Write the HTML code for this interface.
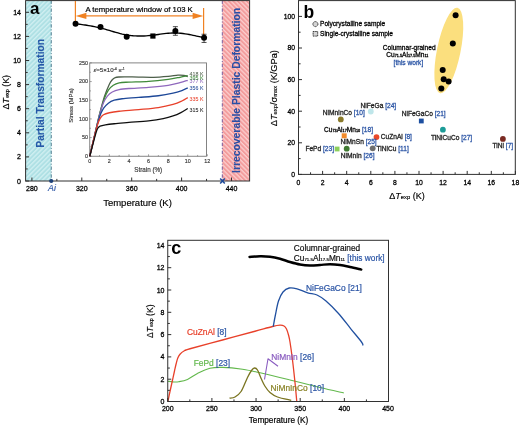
<!DOCTYPE html><html><head><meta charset="utf-8"><title>Figure</title>
<style>html,body{margin:0;padding:0;background:#fff}svg{display:block}text{font-family:"Liberation Sans", Arial, sans-serif;fill:currentColor;stroke:currentColor}</style></head><body>
<svg width="520" height="426" viewBox="0 0 520 426" color="#000">
<defs>
<pattern id="hc" width="3.2" height="3.2" patternUnits="userSpaceOnUse" patternTransform="rotate(-45)"><rect width="3.2" height="3.2" fill="#aee0e4"/><rect width="3.2" height="1.35" fill="#d0eff1"/></pattern>
<pattern id="hp" width="3.2" height="3.2" patternUnits="userSpaceOnUse" patternTransform="rotate(45)"><rect width="3.2" height="3.2" fill="#f39c9c"/><rect width="3.2" height="1.3" fill="#fbcdcd"/></pattern>
<filter id="soft" x="0" y="0" width="100%" height="100%" filterUnits="objectBoundingBox"><feGaussianBlur stdDeviation="0.4"/></filter>
</defs>
<g filter="url(#soft)">
<rect width="520" height="426" fill="#fff"/>
<g id="panel-a">
<rect x="25.60" y="0.60" width="25.65" height="180.40" fill="url(#hc)"/>
<rect x="222.30" y="0.60" width="27.30" height="180.40" fill="url(#hp)"/>
<line x1="51.25" y1="0.60" x2="51.25" y2="181.00" stroke="#3f7186" stroke-width="0.9" stroke-dasharray="3.3 1.8 1 1.8"/>
<line x1="222.3" y1="0.60" x2="222.3" y2="181.00" stroke="#6a4f98" stroke-width="0.9" stroke-dasharray="3.3 1.8 1 1.8"/>
<rect x="25.60" y="0.60" width="224.00" height="180.40" fill="none" stroke="#303030" stroke-width="1"/>
<line x1="31.90" y1="181.00" x2="31.90" y2="177.50" stroke="#303030" stroke-width="1"/>
<line x1="81.80" y1="181.00" x2="81.80" y2="177.50" stroke="#303030" stroke-width="1"/>
<line x1="131.70" y1="181.00" x2="131.70" y2="177.50" stroke="#303030" stroke-width="1"/>
<line x1="181.60" y1="181.00" x2="181.60" y2="177.50" stroke="#303030" stroke-width="1"/>
<line x1="231.50" y1="181.00" x2="231.50" y2="177.50" stroke="#303030" stroke-width="1"/>
<line x1="56.85" y1="181.00" x2="56.85" y2="178.90" stroke="#303030" stroke-width="1"/>
<line x1="106.75" y1="181.00" x2="106.75" y2="178.90" stroke="#303030" stroke-width="1"/>
<line x1="156.65" y1="181.00" x2="156.65" y2="178.90" stroke="#303030" stroke-width="1"/>
<line x1="206.55" y1="181.00" x2="206.55" y2="178.90" stroke="#303030" stroke-width="1"/>
<line x1="25.60" y1="181.00" x2="29.10" y2="181.00" stroke="#303030" stroke-width="1"/>
<line x1="25.60" y1="156.90" x2="29.10" y2="156.90" stroke="#303030" stroke-width="1"/>
<line x1="25.60" y1="132.80" x2="29.10" y2="132.80" stroke="#303030" stroke-width="1"/>
<line x1="25.60" y1="108.70" x2="29.10" y2="108.70" stroke="#303030" stroke-width="1"/>
<line x1="25.60" y1="84.60" x2="29.10" y2="84.60" stroke="#303030" stroke-width="1"/>
<line x1="25.60" y1="60.50" x2="29.10" y2="60.50" stroke="#303030" stroke-width="1"/>
<line x1="25.60" y1="36.40" x2="29.10" y2="36.40" stroke="#303030" stroke-width="1"/>
<line x1="25.60" y1="12.30" x2="29.10" y2="12.30" stroke="#303030" stroke-width="1"/>
<line x1="25.60" y1="168.95" x2="27.70" y2="168.95" stroke="#303030" stroke-width="1"/>
<line x1="25.60" y1="144.85" x2="27.70" y2="144.85" stroke="#303030" stroke-width="1"/>
<line x1="25.60" y1="120.75" x2="27.70" y2="120.75" stroke="#303030" stroke-width="1"/>
<line x1="25.60" y1="96.65" x2="27.70" y2="96.65" stroke="#303030" stroke-width="1"/>
<line x1="25.60" y1="72.55" x2="27.70" y2="72.55" stroke="#303030" stroke-width="1"/>
<line x1="25.60" y1="48.45" x2="27.70" y2="48.45" stroke="#303030" stroke-width="1"/>
<line x1="25.60" y1="24.35" x2="27.70" y2="24.35" stroke="#303030" stroke-width="1"/>
<text x="21" y="183.50" font-size="7" text-anchor="end" stroke-width="0.27">0</text>
<text x="21" y="159.40" font-size="7" text-anchor="end" stroke-width="0.27">2</text>
<text x="21" y="135.30" font-size="7" text-anchor="end" stroke-width="0.27">4</text>
<text x="21" y="111.20" font-size="7" text-anchor="end" stroke-width="0.27">6</text>
<text x="21" y="87.10" font-size="7" text-anchor="end" stroke-width="0.27">8</text>
<text x="21" y="63.00" font-size="7" text-anchor="end" stroke-width="0.27">10</text>
<text x="21" y="38.90" font-size="7" text-anchor="end" stroke-width="0.27">12</text>
<text x="21" y="14.80" font-size="7" text-anchor="end" stroke-width="0.27">14</text>
<text x="31.90" y="190.7" font-size="7" text-anchor="middle" stroke-width="0.27">280</text>
<text x="81.80" y="190.7" font-size="7" text-anchor="middle" stroke-width="0.27">320</text>
<text x="131.70" y="190.7" font-size="7" text-anchor="middle" stroke-width="0.27">360</text>
<text x="181.60" y="190.7" font-size="7" text-anchor="middle" stroke-width="0.27">400</text>
<text x="231.50" y="190.7" font-size="7" text-anchor="middle" stroke-width="0.27">440</text>
<text x="52" y="191" font-size="8.8" text-anchor="middle" font-style="italic" color="#2b55a5" stroke-width="0.15">Ai</text>
<circle cx="51.25" cy="181" r="2.1" fill="#1c3f78"/>
<path d="M220.2 178.4 L224.8 183.6 M224.8 178.4 L220.2 183.6" stroke="#1f4a9a" stroke-width="1.5" fill="none"/>
<text x="30" y="14" font-size="17" font-weight="bold" color="#000" stroke-width="0">a</text>
<text transform="translate(43.5 93.3) rotate(-90)" font-size="10.25" font-weight="bold" text-anchor="middle" color="#2558a8" stroke-width="0.12">Partial Transformation</text>
<text transform="translate(240.2 90.4) rotate(-90)" font-size="10.35" font-weight="bold" text-anchor="middle" color="#2a4fa5" stroke-width="0.12">Irrecoverable Plastic Deformation</text>
<text transform="translate(8.9 92.2) rotate(-90)" font-size="8.9" text-anchor="middle" stroke-width="0.15">Δ<tspan font-style="italic">T</tspan><tspan font-size="5.5">exp</tspan> (K)</text>
<text x="137.5" y="205.8" font-size="9.5" text-anchor="middle" stroke-width="0.15">Temperature (K)</text>
<line x1="75.40" y1="1" x2="75.40" y2="22" stroke="#f08224" stroke-width="1.2"/>
<line x1="203.60" y1="8" x2="203.60" y2="36" stroke="#f08224" stroke-width="1.2"/>
<line x1="81.40" y1="15.9" x2="197.60" y2="15.9" stroke="#f08224" stroke-width="1.3"/>
<path d="M75.70 15.9 L86.40 12.7 L86.40 19.1 Z" fill="#f08224"/>
<path d="M203.30 15.9 L192.60 12.7 L192.60 19.1 Z" fill="#f08224"/>
<text x="139.15" y="11.9" font-size="7.72" text-anchor="middle" stroke-width="0.2">A temperature window of 103 K</text>
<path d="M75.6 23.75 L75.6 23.75 L75.6 23.75 L75.6 23.76 L75.7 23.77 L75.9 23.79 L76.1 23.82 L76.4 23.86 L76.8 23.91 L77.3 23.98 L78.0 24.06 L78.8 24.17 L79.7 24.29 L80.8 24.44 L82.1 24.61 L83.6 24.81 L85.1 25.03 L86.8 25.29 L88.6 25.58 L90.5 25.90 L92.4 26.25 L94.4 26.65 L96.5 27.08 L98.6 27.55 L100.7 28.07 L102.9 28.62 L105.0 29.22 L107.1 29.83 L109.3 30.47 L111.5 31.11 L113.6 31.74 L115.8 32.36 L118.0 32.96 L120.2 33.53 L122.3 34.05 L124.5 34.52 L126.7 34.93 L128.9 35.28 L131.1 35.55 L133.2 35.76 L135.4 35.91 L137.6 36.00 L139.7 36.03 L141.9 36.02 L144.0 35.96 L146.1 35.85 L148.2 35.70 L150.2 35.52 L152.3 35.30 L154.3 35.05 L156.3 34.77 L158.3 34.49 L160.2 34.20 L162.2 33.93 L164.2 33.66 L166.2 33.43 L168.2 33.23 L170.2 33.07 L172.2 32.97 L174.3 32.93 L176.4 32.97 L178.6 33.08 L180.7 33.27 L182.9 33.52 L185.1 33.81 L187.2 34.15 L189.2 34.52 L191.2 34.90 L193.1 35.29 L194.9 35.68 L196.5 36.05 L198.0 36.39 L199.3 36.70 L200.4 36.96 L201.3 37.18 L202.0 37.36 L202.6 37.51 L203.1 37.62 L203.5 37.70 L203.7 37.76 L203.9 37.80 L204.0 37.83 L204.0 37.84 L204.1 37.85 L204.1 37.85" fill="none" stroke="#000" stroke-width="1.35" stroke-linejoin="round"/>
<circle cx="75.56" cy="23.75" r="3" fill="#000"/>
<circle cx="100.51" cy="27.00" r="3" fill="#000"/>
<circle cx="126.71" cy="36.64" r="3" fill="#000"/>
<rect x="150.31" y="33.44" width="5.2" height="5.2" fill="#000"/>
<path d="M175.36 26.68 V35.28 M172.86 26.68 H177.86 M172.86 35.28 H177.86" stroke="#000" stroke-width="0.7" fill="none"/>
<circle cx="175.36" cy="30.98" r="3" fill="#000"/>
<path d="M204.06 34.25 V42.45 M201.56 34.25 H206.56 M201.56 42.45 H206.56" stroke="#000" stroke-width="0.7" fill="none"/>
<circle cx="204.06" cy="37.85" r="3" fill="#000"/>
<rect x="89.75" y="62.90" width="116.75" height="93.35" fill="#fff" stroke="#777" stroke-width="0.9"/>
<line x1="89.75" y1="156.25" x2="89.75" y2="154.25" stroke="#666" stroke-width="0.6"/>
<text x="89.75" y="163.3" font-size="5.4" text-anchor="middle" color="#333" stroke-width="0.14">0</text>
<line x1="109.35" y1="156.25" x2="109.35" y2="154.25" stroke="#666" stroke-width="0.6"/>
<text x="109.35" y="163.3" font-size="5.4" text-anchor="middle" color="#333" stroke-width="0.14">2</text>
<line x1="128.95" y1="156.25" x2="128.95" y2="154.25" stroke="#666" stroke-width="0.6"/>
<text x="128.95" y="163.3" font-size="5.4" text-anchor="middle" color="#333" stroke-width="0.14">4</text>
<line x1="148.55" y1="156.25" x2="148.55" y2="154.25" stroke="#666" stroke-width="0.6"/>
<text x="148.55" y="163.3" font-size="5.4" text-anchor="middle" color="#333" stroke-width="0.14">6</text>
<line x1="168.15" y1="156.25" x2="168.15" y2="154.25" stroke="#666" stroke-width="0.6"/>
<text x="168.15" y="163.3" font-size="5.4" text-anchor="middle" color="#333" stroke-width="0.14">8</text>
<line x1="187.75" y1="156.25" x2="187.75" y2="154.25" stroke="#666" stroke-width="0.6"/>
<text x="187.75" y="163.3" font-size="5.4" text-anchor="middle" color="#333" stroke-width="0.14">10</text>
<line x1="207.35" y1="156.25" x2="207.35" y2="154.25" stroke="#666" stroke-width="0.6"/>
<text x="207.35" y="163.3" font-size="5.4" text-anchor="middle" color="#333" stroke-width="0.14">12</text>
<line x1="99.55" y1="156.25" x2="99.55" y2="155.05" stroke="#666" stroke-width="0.6"/>
<line x1="119.15" y1="156.25" x2="119.15" y2="155.05" stroke="#666" stroke-width="0.6"/>
<line x1="138.75" y1="156.25" x2="138.75" y2="155.05" stroke="#666" stroke-width="0.6"/>
<line x1="158.35" y1="156.25" x2="158.35" y2="155.05" stroke="#666" stroke-width="0.6"/>
<line x1="177.95" y1="156.25" x2="177.95" y2="155.05" stroke="#666" stroke-width="0.6"/>
<line x1="197.55" y1="156.25" x2="197.55" y2="155.05" stroke="#666" stroke-width="0.6"/>
<line x1="89.75" y1="156.25" x2="91.75" y2="156.25" stroke="#666" stroke-width="0.6"/>
<text x="88" y="158.15" font-size="5.4" text-anchor="end" color="#333" stroke-width="0.14">0</text>
<line x1="89.75" y1="137.58" x2="91.75" y2="137.58" stroke="#666" stroke-width="0.6"/>
<text x="88" y="139.48" font-size="5.4" text-anchor="end" color="#333" stroke-width="0.14">50</text>
<line x1="89.75" y1="118.91" x2="91.75" y2="118.91" stroke="#666" stroke-width="0.6"/>
<text x="88" y="120.81" font-size="5.4" text-anchor="end" color="#333" stroke-width="0.14">100</text>
<line x1="89.75" y1="100.24" x2="91.75" y2="100.24" stroke="#666" stroke-width="0.6"/>
<text x="88" y="102.14" font-size="5.4" text-anchor="end" color="#333" stroke-width="0.14">150</text>
<line x1="89.75" y1="81.57" x2="91.75" y2="81.57" stroke="#666" stroke-width="0.6"/>
<text x="88" y="83.47" font-size="5.4" text-anchor="end" color="#333" stroke-width="0.14">200</text>
<line x1="89.75" y1="62.90" x2="91.75" y2="62.90" stroke="#666" stroke-width="0.6"/>
<text x="88" y="64.80" font-size="5.4" text-anchor="end" color="#333" stroke-width="0.14">250</text>
<line x1="89.75" y1="146.91" x2="90.95" y2="146.91" stroke="#666" stroke-width="0.6"/>
<line x1="89.75" y1="128.25" x2="90.95" y2="128.25" stroke="#666" stroke-width="0.6"/>
<line x1="89.75" y1="109.58" x2="90.95" y2="109.58" stroke="#666" stroke-width="0.6"/>
<line x1="89.75" y1="90.91" x2="90.95" y2="90.91" stroke="#666" stroke-width="0.6"/>
<line x1="89.75" y1="72.24" x2="90.95" y2="72.24" stroke="#666" stroke-width="0.6"/>
<text transform="translate(72.6 105.5) rotate(-90)" font-size="5.9" text-anchor="middle" color="#333" stroke-width="0.14">Stress (MPa)</text>
<text x="148.2" y="172.4" font-size="6.3" text-anchor="middle" color="#333" stroke-width="0.14">Strain (%)</text>
<text x="93.6" y="71.8" font-size="6.1" color="#333" stroke-width="0.14"><tspan font-style="italic">ε̇</tspan>=5×10<tspan font-size="3.6" dy="-2">-4</tspan><tspan dy="2"> s</tspan><tspan font-size="3.6" dy="-2">-1</tspan></text>
<path d="M89.75 156.25 C90.57 152.76 93.02 142.31 94.65 135.34 C96.28 128.37 97.92 120.90 99.55 114.43 C101.18 107.96 102.82 101.55 104.45 96.51 C106.08 91.47 108.04 86.98 109.35 84.18 C110.66 81.38 111.31 80.79 112.29 79.70 C113.27 78.61 114.09 78.10 115.23 77.65 C116.37 77.19 117.52 77.12 119.15 76.98 C120.78 76.83 121.76 76.77 125.03 76.79 C128.30 76.81 134.01 77.01 138.75 77.09 C143.49 77.17 148.55 77.40 153.45 77.28 C158.35 77.15 164.07 76.68 168.15 76.34 C172.23 76.00 175.34 75.38 177.95 75.22 C180.56 75.07 182.20 75.16 183.83 75.41 C185.46 75.66 187.10 76.50 187.75 76.72" fill="none" stroke="#4d5f4a" stroke-width="1.3" stroke-linejoin="round"/>
<path d="M89.75 156.25 C90.57 152.76 93.02 142.31 94.65 135.34 C96.28 128.37 97.92 120.59 99.55 114.43 C101.18 108.27 102.98 102.42 104.45 98.37 C105.92 94.33 106.90 92.34 108.37 90.16 C109.84 87.98 111.47 86.52 113.27 85.30 C115.07 84.09 116.54 83.41 119.15 82.88 C121.76 82.35 124.05 82.38 128.95 82.13 C133.85 81.88 142.02 81.85 148.55 81.38 C155.08 80.92 162.92 80.01 168.15 79.33 C173.38 78.65 176.64 77.90 179.91 77.28 C183.18 76.65 186.44 75.88 187.75 75.60" fill="none" stroke="#3f8a3a" stroke-width="1.3" stroke-linejoin="round"/>
<path d="M89.75 156.25 C90.57 152.76 93.02 142.19 94.65 135.34 C96.28 128.49 98.08 120.59 99.55 115.18 C101.02 109.76 102.16 106.03 103.47 102.85 C104.78 99.68 105.92 97.94 107.39 96.13 C108.86 94.33 110.33 93.11 112.29 92.03 C114.25 90.94 116.37 90.19 119.15 89.60 C121.93 89.01 124.05 88.85 128.95 88.48 C133.85 88.10 142.02 87.89 148.55 87.36 C155.08 86.83 162.92 86.08 168.15 85.30 C173.38 84.53 176.64 83.53 179.91 82.69 C183.18 81.85 186.44 80.67 187.75 80.26" fill="none" stroke="#8f68bd" stroke-width="1.3" stroke-linejoin="round"/>
<path d="M89.75 156.25 C90.57 152.76 93.02 141.87 94.65 135.34 C96.28 128.81 98.08 121.52 99.55 117.04 C101.02 112.56 102.00 110.76 103.47 108.45 C104.94 106.15 106.57 104.60 108.37 103.23 C110.17 101.86 111.96 100.99 114.25 100.24 C116.54 99.49 118.01 99.21 122.09 98.75 C126.17 98.28 132.71 97.94 138.75 97.44 C144.79 96.94 152.63 96.47 158.35 95.76 C164.07 95.04 169.13 94.02 173.05 93.15 C176.97 92.27 179.42 91.40 181.87 90.53 C184.32 89.66 186.77 88.35 187.75 87.92" fill="none" stroke="#1f4898" stroke-width="1.3" stroke-linejoin="round"/>
<path d="M89.75 156.25 C90.40 153.45 92.36 144.74 93.67 139.45 C94.98 134.16 96.53 128.00 97.59 124.51 C98.65 121.03 99.06 120.15 100.04 118.54 C101.02 116.92 101.92 115.77 103.47 114.80 C105.02 113.84 106.74 113.34 109.35 112.75 C111.96 112.16 114.25 111.78 119.15 111.26 C124.05 110.73 132.22 110.20 138.75 109.58 C145.28 108.95 152.63 108.39 158.35 107.52 C164.07 106.65 169.13 105.44 173.05 104.35 C176.97 103.26 179.42 102.11 181.87 100.99 C184.32 99.87 186.77 98.19 187.75 97.63" fill="none" stroke="#e8402a" stroke-width="1.3" stroke-linejoin="round"/>
<path d="M89.75 156.25 C90.40 153.76 92.59 145.36 93.67 141.31 C94.75 137.27 95.53 134.16 96.22 131.98 C96.90 129.80 97.15 129.21 97.79 128.25 C98.42 127.28 98.77 126.75 100.04 126.19 C101.31 125.63 103.06 125.29 105.43 124.88 C107.80 124.48 110.33 124.17 114.25 123.76 C118.17 123.36 123.23 122.96 128.95 122.46 C134.67 121.96 142.83 121.43 148.55 120.78 C154.27 120.12 159.17 119.35 163.25 118.54 C167.33 117.73 170.11 116.92 173.05 115.92 C175.99 114.93 178.44 113.81 180.89 112.56 C183.34 111.32 186.61 109.14 187.75 108.45" fill="none" stroke="#111111" stroke-width="1.3" stroke-linejoin="round"/>
<text x="189.6" y="111.90" font-size="5.3" color="#111111" stroke-width="0.04">315 K</text>
<text x="189.6" y="100.70" font-size="5.3" color="#e8402a" stroke-width="0.04">335 K</text>
<text x="189.6" y="90.10" font-size="5.3" color="#1f4898" stroke-width="0.04">356 K</text>
<text x="189.6" y="83.10" font-size="5.3" color="#8f68bd" stroke-width="0.04">377 K</text>
<text x="189.6" y="79.50" font-size="5.3" color="#3f8a3a" stroke-width="0.04">395 K</text>
<text x="189.6" y="75.70" font-size="5.3" color="#4d5f4a" stroke-width="0.04">418 K</text>
</g>
<g id="panel-b">
<rect x="298.50" y="0.60" width="216.80" height="173.80" fill="none" stroke="#303030" stroke-width="1"/>
<line x1="298.50" y1="174.40" x2="298.50" y2="170.90" stroke="#303030" stroke-width="1"/>
<text x="298.50" y="184.8" font-size="6.8" text-anchor="middle" stroke-width="0.27">0</text>
<line x1="322.60" y1="174.40" x2="322.60" y2="170.90" stroke="#303030" stroke-width="1"/>
<text x="322.60" y="184.8" font-size="6.8" text-anchor="middle" stroke-width="0.27">2</text>
<line x1="346.70" y1="174.40" x2="346.70" y2="170.90" stroke="#303030" stroke-width="1"/>
<text x="346.70" y="184.8" font-size="6.8" text-anchor="middle" stroke-width="0.27">4</text>
<line x1="370.80" y1="174.40" x2="370.80" y2="170.90" stroke="#303030" stroke-width="1"/>
<text x="370.80" y="184.8" font-size="6.8" text-anchor="middle" stroke-width="0.27">6</text>
<line x1="394.90" y1="174.40" x2="394.90" y2="170.90" stroke="#303030" stroke-width="1"/>
<text x="394.90" y="184.8" font-size="6.8" text-anchor="middle" stroke-width="0.27">8</text>
<line x1="419.00" y1="174.40" x2="419.00" y2="170.90" stroke="#303030" stroke-width="1"/>
<text x="419.00" y="184.8" font-size="6.8" text-anchor="middle" stroke-width="0.27">10</text>
<line x1="443.10" y1="174.40" x2="443.10" y2="170.90" stroke="#303030" stroke-width="1"/>
<text x="443.10" y="184.8" font-size="6.8" text-anchor="middle" stroke-width="0.27">12</text>
<line x1="467.20" y1="174.40" x2="467.20" y2="170.90" stroke="#303030" stroke-width="1"/>
<text x="467.20" y="184.8" font-size="6.8" text-anchor="middle" stroke-width="0.27">14</text>
<line x1="491.30" y1="174.40" x2="491.30" y2="170.90" stroke="#303030" stroke-width="1"/>
<text x="491.30" y="184.8" font-size="6.8" text-anchor="middle" stroke-width="0.27">16</text>
<line x1="515.40" y1="174.40" x2="515.40" y2="170.90" stroke="#303030" stroke-width="1"/>
<text x="515.40" y="184.8" font-size="6.8" text-anchor="middle" stroke-width="0.27">18</text>
<line x1="310.55" y1="174.40" x2="310.55" y2="172.30" stroke="#303030" stroke-width="1"/>
<line x1="334.65" y1="174.40" x2="334.65" y2="172.30" stroke="#303030" stroke-width="1"/>
<line x1="358.75" y1="174.40" x2="358.75" y2="172.30" stroke="#303030" stroke-width="1"/>
<line x1="382.85" y1="174.40" x2="382.85" y2="172.30" stroke="#303030" stroke-width="1"/>
<line x1="406.95" y1="174.40" x2="406.95" y2="172.30" stroke="#303030" stroke-width="1"/>
<line x1="431.05" y1="174.40" x2="431.05" y2="172.30" stroke="#303030" stroke-width="1"/>
<line x1="455.15" y1="174.40" x2="455.15" y2="172.30" stroke="#303030" stroke-width="1"/>
<line x1="479.25" y1="174.40" x2="479.25" y2="172.30" stroke="#303030" stroke-width="1"/>
<line x1="503.35" y1="174.40" x2="503.35" y2="172.30" stroke="#303030" stroke-width="1"/>
<line x1="298.50" y1="174.40" x2="302.00" y2="174.40" stroke="#303030" stroke-width="1"/>
<text x="295" y="176.80" font-size="6.8" text-anchor="end" stroke-width="0.27">0</text>
<line x1="298.50" y1="142.80" x2="302.00" y2="142.80" stroke="#303030" stroke-width="1"/>
<text x="295" y="145.20" font-size="6.8" text-anchor="end" stroke-width="0.27">20</text>
<line x1="298.50" y1="111.20" x2="302.00" y2="111.20" stroke="#303030" stroke-width="1"/>
<text x="295" y="113.60" font-size="6.8" text-anchor="end" stroke-width="0.27">40</text>
<line x1="298.50" y1="79.60" x2="302.00" y2="79.60" stroke="#303030" stroke-width="1"/>
<text x="295" y="82.00" font-size="6.8" text-anchor="end" stroke-width="0.27">60</text>
<line x1="298.50" y1="48.00" x2="302.00" y2="48.00" stroke="#303030" stroke-width="1"/>
<text x="295" y="50.40" font-size="6.8" text-anchor="end" stroke-width="0.27">80</text>
<line x1="298.50" y1="16.40" x2="302.00" y2="16.40" stroke="#303030" stroke-width="1"/>
<text x="295" y="18.80" font-size="6.8" text-anchor="end" stroke-width="0.27">100</text>
<line x1="298.50" y1="158.60" x2="300.60" y2="158.60" stroke="#303030" stroke-width="1"/>
<line x1="298.50" y1="127.00" x2="300.60" y2="127.00" stroke="#303030" stroke-width="1"/>
<line x1="298.50" y1="95.40" x2="300.60" y2="95.40" stroke="#303030" stroke-width="1"/>
<line x1="298.50" y1="63.80" x2="300.60" y2="63.80" stroke="#303030" stroke-width="1"/>
<line x1="298.50" y1="32.20" x2="300.60" y2="32.20" stroke="#303030" stroke-width="1"/>
<text x="303.5" y="17.5" font-size="17.5" font-weight="bold" color="#000" stroke-width="0">b</text>
<text transform="translate(277.3 88.2) rotate(-90)" font-size="9.2" text-anchor="middle" stroke-width="0.15">Δ<tspan font-style="italic">T</tspan><tspan font-size="5.8">exp</tspan>/σ<tspan font-size="5.8">max</tspan> (K/GPa)</text>
<text x="407" y="198.7" font-size="9" text-anchor="middle" stroke-width="0.15">Δ<tspan font-style="italic">T</tspan><tspan font-size="5.8">exp</tspan> (K)</text>
<circle cx="315.4" cy="24.1" r="2.5" fill="#d4d4d4" stroke="#222" stroke-width="0.9" stroke-dasharray="1.1 0.5"/>
<rect x="313.1" y="31.5" width="4.6" height="4.6" fill="#d4d4d4" stroke="#222" stroke-width="0.9" stroke-dasharray="1.1 0.5"/>
<text x="320" y="26.2" font-size="6.6" stroke-width="0.27">Polycrystalline sample</text>
<text x="320" y="36.2" font-size="6.6" stroke-width="0.27">Single-crystalline sample</text>
<ellipse cx="448.8" cy="50.5" rx="11.8" ry="43.5" transform="rotate(11.5 448.8 50.5)" fill="#fbdf7e"/>
<circle cx="455.60" cy="15.30" r="3" fill="#000"/>
<circle cx="452.80" cy="43.40" r="3" fill="#000"/>
<circle cx="442.70" cy="70.00" r="3" fill="#000"/>
<circle cx="443.70" cy="79.30" r="3" fill="#000"/>
<circle cx="448.60" cy="81.50" r="3" fill="#000"/>
<circle cx="441.30" cy="88.50" r="3" fill="#000"/>
<text x="409.2" y="49.7" font-size="6.6" text-anchor="middle" stroke-width="0.27">Columnar-grained</text>
<text x="407.3" y="57.2" font-size="6.6" text-anchor="middle" stroke-width="0.27">Cu<tspan font-size="3.8">71.5</tspan>Al<tspan font-size="3.8">17.5</tspan>Mn<tspan font-size="3.8">11</tspan></text>
<text x="408.4" y="64.7" font-size="6.6" text-anchor="middle" color="#2b55a5" stroke-width="0.27">[this work]</text>
<circle cx="370.8" cy="111.5" r="2.9" fill="#bfe6ea"/>
<text x="360.60" y="107.70" font-size="6.6" text-anchor="start" color="#1a1a1a" stroke-width="0.27">NiFeGa <tspan color="#2b55a5">[24]</tspan></text>
<circle cx="340.8" cy="119.4" r="2.9" fill="#8a7a2c"/>
<text x="322.70" y="115.00" font-size="6.6" text-anchor="start" color="#1a1a1a" stroke-width="0.27">NiMnInCo <tspan color="#2b55a5">[10]</tspan></text>
<rect x="341.7" y="133.3" width="5" height="5" fill="#f28a2a"/>
<text x="324" y="132.3" font-size="6.6" stroke-width="0.27">Cu<tspan font-size="3.8">73</tspan>Al<tspan font-size="3.8">17</tspan>Mn<tspan font-size="3.8">10</tspan> <tspan color="#2b55a5">[18]</tspan></text>
<circle cx="376.5" cy="137.1" r="2.9" fill="#ea4a2c"/>
<text x="380.80" y="139.20" font-size="6.6" text-anchor="start" color="#1a1a1a" stroke-width="0.27">CuZnAl <tspan color="#2b55a5">[8]</tspan></text>
<text x="340.40" y="143.80" font-size="6.6" text-anchor="start" color="#1a1a1a" stroke-width="0.27">NiMnSn <tspan color="#2b55a5">[25]</tspan></text>
<circle cx="346.7" cy="148.7" r="2.9" fill="#3f7a30"/>
<rect x="334.7" y="146.6" width="4.8" height="4.8" fill="#8ccf5c"/>
<text x="305.40" y="151.20" font-size="6.6" text-anchor="start" color="#1a1a1a" stroke-width="0.27">FePd <tspan color="#2b55a5">[23]</tspan></text>
<circle cx="372.7" cy="148.3" r="2.9" fill="#6e6e6e"/>
<text x="376.50" y="150.70" font-size="6.6" text-anchor="start" color="#1a1a1a" stroke-width="0.27">TiNiCu <tspan color="#2b55a5">[11]</tspan></text>
<text x="340.80" y="158.30" font-size="6.6" text-anchor="start" color="#1a1a1a" stroke-width="0.27">NiMnIn <tspan color="#2b55a5">[26]</tspan></text>
<rect x="418.9" y="118.6" width="4.8" height="4.8" fill="#1f4fa0"/>
<text x="401.70" y="115.90" font-size="6.6" text-anchor="start" color="#1a1a1a" stroke-width="0.27">NiFeGaCo <tspan color="#2b55a5">[21]</tspan></text>
<circle cx="442.9" cy="129.7" r="2.9" fill="#1e9c98"/>
<text x="431.00" y="139.50" font-size="6.6" text-anchor="start" color="#1a1a1a" stroke-width="0.27">TiNiCuCo <tspan color="#2b55a5">[27]</tspan></text>
<circle cx="502.9" cy="138.9" r="2.9" fill="#7a2c24"/>
<text x="492.50" y="147.50" font-size="6.6" text-anchor="start" color="#1a1a1a" stroke-width="0.27">TiNi <tspan color="#2b55a5">[7]</tspan></text>
</g>
<g id="panel-c">
<path d="M168.00 381.25 C168.83 381.36 171.21 381.82 173.00 381.90 C174.79 381.97 176.33 382.12 178.75 381.70 C181.17 381.28 184.38 380.78 187.50 379.40 C190.62 378.02 193.75 375.26 197.50 373.40 C201.25 371.54 205.83 369.25 210.00 368.25 C214.17 367.25 217.08 367.22 222.50 367.40 C227.92 367.57 236.25 368.40 242.50 369.30 C248.75 370.20 252.08 371.02 260.00 372.80 C267.92 374.58 280.00 377.55 290.00 380.00 C300.00 382.45 311.04 385.35 320.00 387.50 C328.96 389.65 339.79 392.00 343.75 392.90" fill="none" stroke="#62b84c" stroke-width="1.1"/>
<path d="M229.50 398.20 C230.42 398.00 233.04 398.16 235.00 397.00 C236.96 395.84 239.17 394.50 241.25 391.25 C243.33 388.00 245.79 380.96 247.50 377.50 C249.21 374.04 250.33 372.08 251.50 370.50 C252.67 368.92 253.50 368.08 254.50 368.00 C255.50 367.92 256.38 368.21 257.50 370.00 C258.62 371.79 260.00 376.04 261.25 378.75 C262.50 381.46 263.54 383.96 265.00 386.25 C266.46 388.54 267.92 390.71 270.00 392.50 C272.08 394.29 273.96 395.70 277.50 397.00 C281.04 398.30 288.96 399.75 291.25 400.30" fill="none" stroke="#7a7420" stroke-width="1.3"/>
<path d="M264.5 379.5 L268 358.75 L278 366.25" fill="none" stroke="#8a5cc0" stroke-width="1.1" stroke-linejoin="round"/>
<path d="M167.90 401.30 C168.27 399.58 169.37 394.38 170.10 391.00 C170.83 387.62 171.57 384.33 172.30 381.00 C173.03 377.67 173.85 373.92 174.50 371.00 C175.15 368.08 175.65 365.67 176.20 363.50 C176.75 361.33 177.17 359.55 177.80 358.00 C178.43 356.45 178.97 355.37 180.00 354.20 C181.03 353.03 182.33 351.91 184.00 351.00 C185.67 350.09 183.58 350.58 190.00 348.75 C196.42 346.92 211.67 342.92 222.50 340.00 C233.33 337.08 246.67 333.50 255.00 331.25 C263.33 329.00 268.33 327.51 272.50 326.50 C276.67 325.49 278.08 325.28 280.00 325.20 C281.92 325.12 282.92 325.37 284.00 326.00 C285.08 326.63 285.75 327.50 286.50 329.00 C287.25 330.50 287.92 332.83 288.50 335.00 C289.08 337.17 289.33 337.83 290.00 342.00 C290.67 346.17 291.67 353.25 292.50 360.00 C293.33 366.75 294.29 375.62 295.00 382.50 C295.71 389.38 296.46 398.12 296.75 401.25" fill="none" stroke="#e8402a" stroke-width="1.3"/>
<path d="M273.20 326.70 C273.57 324.75 274.52 319.28 275.40 315.00 C276.28 310.72 277.23 304.83 278.50 301.00 C279.77 297.17 281.22 294.17 283.00 292.00 C284.78 289.83 286.87 288.53 289.20 288.00 C291.53 287.47 293.92 288.00 297.00 288.80 C300.08 289.60 304.37 291.77 307.70 292.80 C311.03 293.83 313.95 293.63 317.00 295.00 C320.05 296.37 322.42 297.92 326.00 301.00 C329.58 304.08 334.37 308.87 338.50 313.50 C342.63 318.13 346.97 324.05 350.80 328.80 C354.63 333.55 359.47 339.22 361.50 342.00 C363.53 344.78 362.75 344.92 363.00 345.50" fill="none" stroke="#2050a0" stroke-width="1.3"/>
<path d="M249.50 257.00 C251.25 256.88 256.58 256.29 260.00 256.25 C263.42 256.21 266.67 256.33 270.00 256.75 C273.33 257.17 276.67 257.88 280.00 258.75 C283.33 259.62 286.67 261.04 290.00 262.00 C293.33 262.96 296.67 263.92 300.00 264.50 C303.33 265.08 306.67 265.42 310.00 265.50 C313.33 265.58 316.67 265.21 320.00 265.00 C323.33 264.79 326.67 264.25 330.00 264.25 C333.33 264.25 336.67 264.54 340.00 265.00 C343.33 265.46 346.46 266.23 350.00 267.00 C353.54 267.77 359.38 269.17 361.25 269.60" fill="none" stroke="#000" stroke-width="2.4" stroke-linecap="round"/>
<rect x="167.75" y="240.30" width="220.75" height="161.20" fill="none" stroke="#303030" stroke-width="1"/>
<line x1="167.75" y1="401.50" x2="167.75" y2="398.00" stroke="#303030" stroke-width="1"/>
<text x="167.75" y="411" font-size="7" text-anchor="middle" stroke-width="0.27">200</text>
<line x1="211.90" y1="401.50" x2="211.90" y2="398.00" stroke="#303030" stroke-width="1"/>
<text x="211.90" y="411" font-size="7" text-anchor="middle" stroke-width="0.27">250</text>
<line x1="256.05" y1="401.50" x2="256.05" y2="398.00" stroke="#303030" stroke-width="1"/>
<text x="256.05" y="411" font-size="7" text-anchor="middle" stroke-width="0.27">300</text>
<line x1="300.20" y1="401.50" x2="300.20" y2="398.00" stroke="#303030" stroke-width="1"/>
<text x="300.20" y="411" font-size="7" text-anchor="middle" stroke-width="0.27">350</text>
<line x1="344.35" y1="401.50" x2="344.35" y2="398.00" stroke="#303030" stroke-width="1"/>
<text x="344.35" y="411" font-size="7" text-anchor="middle" stroke-width="0.27">400</text>
<line x1="388.50" y1="401.50" x2="388.50" y2="398.00" stroke="#303030" stroke-width="1"/>
<text x="388.00" y="411" font-size="7" text-anchor="middle" stroke-width="0.27">450</text>
<line x1="189.82" y1="401.50" x2="189.82" y2="399.40" stroke="#303030" stroke-width="1"/>
<line x1="233.97" y1="401.50" x2="233.97" y2="399.40" stroke="#303030" stroke-width="1"/>
<line x1="278.12" y1="401.50" x2="278.12" y2="399.40" stroke="#303030" stroke-width="1"/>
<line x1="322.27" y1="401.50" x2="322.27" y2="399.40" stroke="#303030" stroke-width="1"/>
<line x1="366.43" y1="401.50" x2="366.43" y2="399.40" stroke="#303030" stroke-width="1"/>
<line x1="167.75" y1="401.50" x2="171.25" y2="401.50" stroke="#303030" stroke-width="1"/>
<text x="164.5" y="404.00" font-size="7" text-anchor="end" stroke-width="0.27">0</text>
<line x1="167.75" y1="379.20" x2="171.25" y2="379.20" stroke="#303030" stroke-width="1"/>
<text x="164.5" y="381.70" font-size="7" text-anchor="end" stroke-width="0.27">2</text>
<line x1="167.75" y1="356.90" x2="171.25" y2="356.90" stroke="#303030" stroke-width="1"/>
<text x="164.5" y="359.40" font-size="7" text-anchor="end" stroke-width="0.27">4</text>
<line x1="167.75" y1="334.60" x2="171.25" y2="334.60" stroke="#303030" stroke-width="1"/>
<text x="164.5" y="337.10" font-size="7" text-anchor="end" stroke-width="0.27">6</text>
<line x1="167.75" y1="312.30" x2="171.25" y2="312.30" stroke="#303030" stroke-width="1"/>
<text x="164.5" y="314.80" font-size="7" text-anchor="end" stroke-width="0.27">8</text>
<line x1="167.75" y1="290.00" x2="171.25" y2="290.00" stroke="#303030" stroke-width="1"/>
<text x="164.5" y="292.50" font-size="7" text-anchor="end" stroke-width="0.27">10</text>
<line x1="167.75" y1="267.70" x2="171.25" y2="267.70" stroke="#303030" stroke-width="1"/>
<text x="164.5" y="270.20" font-size="7" text-anchor="end" stroke-width="0.27">12</text>
<line x1="167.75" y1="245.40" x2="171.25" y2="245.40" stroke="#303030" stroke-width="1"/>
<text x="164.5" y="247.90" font-size="7" text-anchor="end" stroke-width="0.27">14</text>
<line x1="167.75" y1="390.35" x2="169.85" y2="390.35" stroke="#303030" stroke-width="1"/>
<line x1="167.75" y1="368.05" x2="169.85" y2="368.05" stroke="#303030" stroke-width="1"/>
<line x1="167.75" y1="345.75" x2="169.85" y2="345.75" stroke="#303030" stroke-width="1"/>
<line x1="167.75" y1="323.45" x2="169.85" y2="323.45" stroke="#303030" stroke-width="1"/>
<line x1="167.75" y1="301.15" x2="169.85" y2="301.15" stroke="#303030" stroke-width="1"/>
<line x1="167.75" y1="278.85" x2="169.85" y2="278.85" stroke="#303030" stroke-width="1"/>
<line x1="167.75" y1="256.55" x2="169.85" y2="256.55" stroke="#303030" stroke-width="1"/>
<text x="171.3" y="254" font-size="18" font-weight="bold" color="#000" stroke-width="0">c</text>
<text transform="translate(152.6 321.2) rotate(-90)" font-size="8.6" text-anchor="middle" stroke-width="0.15">Δ<tspan font-style="italic">T</tspan><tspan font-size="5.4">exp</tspan> (K)</text>
<text x="278.5" y="422.8" font-size="8.25" text-anchor="middle" stroke-width="0.2">Temperature (K)</text>
<text x="293.8" y="251.3" font-size="8.3" color="#111" stroke-width="0.2">Columnar-grained</text>
<text x="293.8" y="260.5" font-size="8.3" color="#111" stroke-width="0.2">Cu<tspan font-size="4.4">71.5</tspan>Al<tspan font-size="4.4">17.5</tspan>Mn<tspan font-size="4.4">11</tspan> <tspan color="#2b55a5">[this work]</tspan></text>
<text x="306.00" y="291.30" font-size="8.4" text-anchor="start" color="#2b55a5" stroke-width="0.2">NiFeGaCo <tspan color="#2b55a5">[21]</tspan></text>
<text x="187.00" y="335.00" font-size="8.4" text-anchor="start" color="#e8402a" stroke-width="0.2">CuZnAl <tspan color="#2b55a5">[8]</tspan></text>
<text x="193.75" y="366.20" font-size="8.4" text-anchor="start" color="#62b84c" stroke-width="0.2">FePd <tspan color="#2b55a5">[23]</tspan></text>
<text x="271.25" y="360.00" font-size="8.4" text-anchor="start" color="#8a5cc0" stroke-width="0.2">NiMnIn <tspan color="#2b55a5">[26]</tspan></text>
<text x="270.50" y="390.50" font-size="8.4" text-anchor="start" color="#8a8428" stroke-width="0.2">NiMnInCo <tspan color="#2b55a5">[10]</tspan></text>
</g>
</g>
</svg></body></html>
